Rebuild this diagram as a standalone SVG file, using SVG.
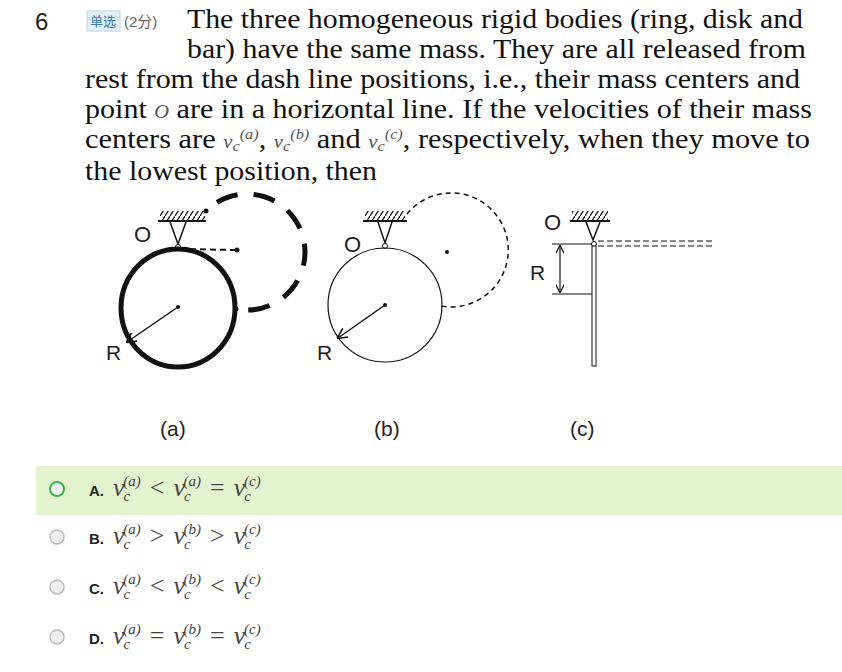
<svg xmlns="http://www.w3.org/2000/svg" width="842" height="672" viewBox="0 0 842 672">
<style>
.q{font-family:"Liberation Serif",serif;font-size:28px;fill:#111}
.s{font-family:"Liberation Sans",sans-serif;fill:#222}
.m{font-family:"Liberation Serif",serif;font-style:italic;fill:#444;font-size:26px}
.mq{font-family:"Liberation Serif",serif;font-style:italic;fill:#555;font-size:19px}
.sup{font-size:15px}
.sub{font-size:15px}
.op{font-family:"Liberation Serif",serif;fill:#444;font-size:26px}
.ln{stroke:#111;fill:none}
.radio{fill:#eee;stroke:#bbb;stroke-width:1.5}
</style>
<defs>
<pattern id="h" width="5" height="8" patternUnits="userSpaceOnUse"><path d="M0 8L5 0" stroke="#111" stroke-width="1.3"/></pattern>
<marker id="ar" viewBox="0 0 10 10" refX="9" refY="5" markerWidth="7" markerHeight="7" orient="auto-start-reverse"><path d="M0 0L10 5L0 10" fill="none" stroke="#111" stroke-width="1.5"/></marker>
</defs>
<rect width="842" height="672" fill="#fff"/>
<g id="header">
<text x="35" y="30" class="s" font-size="24">6</text>
<rect x="87" y="11" width="33" height="20" fill="#e3f0fb" stroke="#b8d4ec"/>
<text x="90" y="26" font-family="Noto Sans CJK SC,sans-serif" font-size="13" fill="#3a7bbf">单选</text>
<text x="124" y="27" font-family="Liberation Sans,Noto Sans CJK SC,sans-serif" font-size="15" fill="#666">(2分)</text>
<text class="q" x="187" y="28" textLength="616" lengthAdjust="spacingAndGlyphs">The three homogeneous rigid bodies (ring, disk and</text>
<text class="q" x="187" y="58" textLength="619" lengthAdjust="spacingAndGlyphs">bar) have the same mass. They are all released from</text>
<text class="q" x="85" y="88" textLength="715" lengthAdjust="spacingAndGlyphs">rest from the dash line positions, i.e., their mass centers and</text>
<text class="q" x="85" y="118" textLength="727" lengthAdjust="spacingAndGlyphs">point <tspan class="mq">O</tspan> are in a horizontal line. If the velocities of their mass</text>
<text class="q" x="85" y="148" textLength="725" lengthAdjust="spacingAndGlyphs">centers are <tspan class="mq">v</tspan><tspan class="mq sub" dy="3">c</tspan><tspan class="mq sup" dy="-12">(a)</tspan><tspan dy="9">, </tspan><tspan class="mq">v</tspan><tspan class="mq sub" dy="3">c</tspan><tspan class="mq sup" dy="-12">(b)</tspan><tspan dy="9"> and </tspan><tspan class="mq">v</tspan><tspan class="mq sub" dy="3">c</tspan><tspan class="mq sup" dy="-12">(c)</tspan><tspan dy="9">, respectively, when they move to</tspan></text>
<text class="q" x="85" y="180" textLength="292" lengthAdjust="spacingAndGlyphs">the lowest position, then</text>
</g>
<g id="fig-a">
<rect x="160" y="211" width="45" height="9" fill="url(#h)"/>
<line class="ln" x1="158" y1="221" x2="206" y2="221" stroke-width="2"/>
<path class="ln" d="M170 222L178 244L186 222" stroke-width="1.5"/>
<circle cx="178" cy="247" r="2.5" fill="#fff" stroke="#111"/>
<ellipse class="ln" cx="178" cy="308" rx="57" ry="59" stroke-width="5"/>
<circle cx="178" cy="307" r="2" fill="#111"/>
<line class="ln" x1="178" y1="307" x2="127" y2="342" stroke-width="1.5" marker-end="url(#ar)"/>
<line class="ln" x1="180" y1="249" x2="236" y2="250" stroke-width="2" stroke-dasharray="6 4"/>
<circle cx="237" cy="250" r="2.5" fill="#111"/>
<circle cx="206" cy="211" r="2.5" fill="#111"/>
<circle cx="236" cy="309" r="2.5" fill="#111"/>
<path class="ln" d="M206 211A58 58 0 1 1 236 309" stroke-width="5" stroke-dasharray="22 16" stroke-dashoffset="-14"/>
<text x="106" y="360" class="s" font-size="21">R</text>
<text x="134" y="242" class="s" font-size="22">O</text>
<text x="160" y="436" class="s" font-size="21">(a)</text>
</g>
<g id="fig-b">
<rect x="365" y="211" width="40" height="9" fill="url(#h)"/>
<line class="ln" x1="363" y1="221" x2="407" y2="221" stroke-width="2"/>
<path class="ln" d="M378 222L385 243L392 222" stroke-width="1.5"/>
<circle cx="385" cy="246" r="2.5" fill="#fff" stroke="#111"/>
<circle class="ln" cx="385" cy="305" r="57" stroke-width="1.2"/>
<circle cx="385" cy="305" r="2" fill="#111"/>
<line class="ln" x1="385" y1="305" x2="338" y2="338" stroke-width="1.5" marker-end="url(#ar)"/>
<circle cx="447" cy="252" r="2" fill="#111"/>
<path class="ln" d="M407 214A57 57 0 1 1 441 306" stroke-width="1.5" stroke-dasharray="5 4"/>
<text x="317" y="360" class="s" font-size="21">R</text>
<text x="344" y="252" class="s" font-size="22">O</text>
<text x="374" y="436" class="s" font-size="21">(b)</text>
</g>
<g id="fig-c">
<rect x="572" y="211" width="36" height="9" fill="url(#h)"/>
<line class="ln" x1="570" y1="221" x2="610" y2="221" stroke-width="2"/>
<path class="ln" d="M586 222L593 240L600 222" stroke-width="1.5"/>
<circle cx="594" cy="244" r="2.5" fill="#fff" stroke="#111"/>
<rect x="592" y="246" width="4" height="120" fill="#fff" stroke="#111" stroke-width="1"/>
<line x1="598" y1="241" x2="712" y2="241" stroke="#111" stroke-width="1.2" stroke-dasharray="6 3"/>
<line x1="598" y1="246" x2="712" y2="246" stroke="#111" stroke-width="1.2" stroke-dasharray="6 3"/>
<line class="ln" x1="552" y1="244" x2="592" y2="244" stroke-width="1.2"/>
<line class="ln" x1="552" y1="294" x2="592" y2="294" stroke-width="1.2"/>
<line class="ln" x1="560" y1="246" x2="560" y2="292" stroke-width="1.2" marker-start="url(#ar)" marker-end="url(#ar)"/>
<text x="530" y="280" class="s" font-size="21">R</text>
<text x="544" y="230" class="s" font-size="22">O</text>
<text x="570" y="436" class="s" font-size="21">(c)</text>
</g>
<g id="options">
<rect x="36" y="466" width="806" height="49" fill="#e3f3d0"/>
<circle cx="57" cy="489" r="7" fill="#f3f3f3" stroke="#3cb44b" stroke-width="2"/>
<circle class="radio" cx="57" cy="537" r="7"/>
<circle class="radio" cx="57" cy="587" r="7"/>
<circle class="radio" cx="57" cy="637" r="7"/>
<g font-size="15" class="s" font-weight="bold" fill="#444">
<text x="89" y="496">A.</text><text x="89" y="544">B.</text><text x="89" y="594">C.</text><text x="89" y="644">D.</text>
</g>
<text x="113" y="496" class="op"><tspan class="m">v</tspan><tspan class="m sub" dy="5" dx="-1">c</tspan><tspan class="m sup" dy="-15" dx="-7">(a)</tspan><tspan dy="10" dx="9">&lt;</tspan><tspan class="m" dx="9">v</tspan><tspan class="m sub" dy="5" dx="-1">c</tspan><tspan class="m sup" dy="-15" dx="-7">(a)</tspan><tspan dy="10" dx="9">=</tspan><tspan class="m" dx="9">v</tspan><tspan class="m sub" dy="5" dx="-1">c</tspan><tspan class="m sup" dy="-15" dx="-7">(c)</tspan></text>
<text x="113" y="544" class="op"><tspan class="m">v</tspan><tspan class="m sub" dy="5" dx="-1">c</tspan><tspan class="m sup" dy="-15" dx="-7">(a)</tspan><tspan dy="10" dx="9">&gt;</tspan><tspan class="m" dx="9">v</tspan><tspan class="m sub" dy="5" dx="-1">c</tspan><tspan class="m sup" dy="-15" dx="-7">(b)</tspan><tspan dy="10" dx="9">&gt;</tspan><tspan class="m" dx="9">v</tspan><tspan class="m sub" dy="5" dx="-1">c</tspan><tspan class="m sup" dy="-15" dx="-7">(c)</tspan></text>
<text x="113" y="594" class="op"><tspan class="m">v</tspan><tspan class="m sub" dy="5" dx="-1">c</tspan><tspan class="m sup" dy="-15" dx="-7">(a)</tspan><tspan dy="10" dx="9">&lt;</tspan><tspan class="m" dx="9">v</tspan><tspan class="m sub" dy="5" dx="-1">c</tspan><tspan class="m sup" dy="-15" dx="-7">(b)</tspan><tspan dy="10" dx="9">&lt;</tspan><tspan class="m" dx="9">v</tspan><tspan class="m sub" dy="5" dx="-1">c</tspan><tspan class="m sup" dy="-15" dx="-7">(c)</tspan></text>
<text x="113" y="644" class="op"><tspan class="m">v</tspan><tspan class="m sub" dy="5" dx="-1">c</tspan><tspan class="m sup" dy="-15" dx="-7">(a)</tspan><tspan dy="10" dx="9">=</tspan><tspan class="m" dx="9">v</tspan><tspan class="m sub" dy="5" dx="-1">c</tspan><tspan class="m sup" dy="-15" dx="-7">(b)</tspan><tspan dy="10" dx="9">=</tspan><tspan class="m" dx="9">v</tspan><tspan class="m sub" dy="5" dx="-1">c</tspan><tspan class="m sup" dy="-15" dx="-7">(c)</tspan></text>
</g>
</svg>
